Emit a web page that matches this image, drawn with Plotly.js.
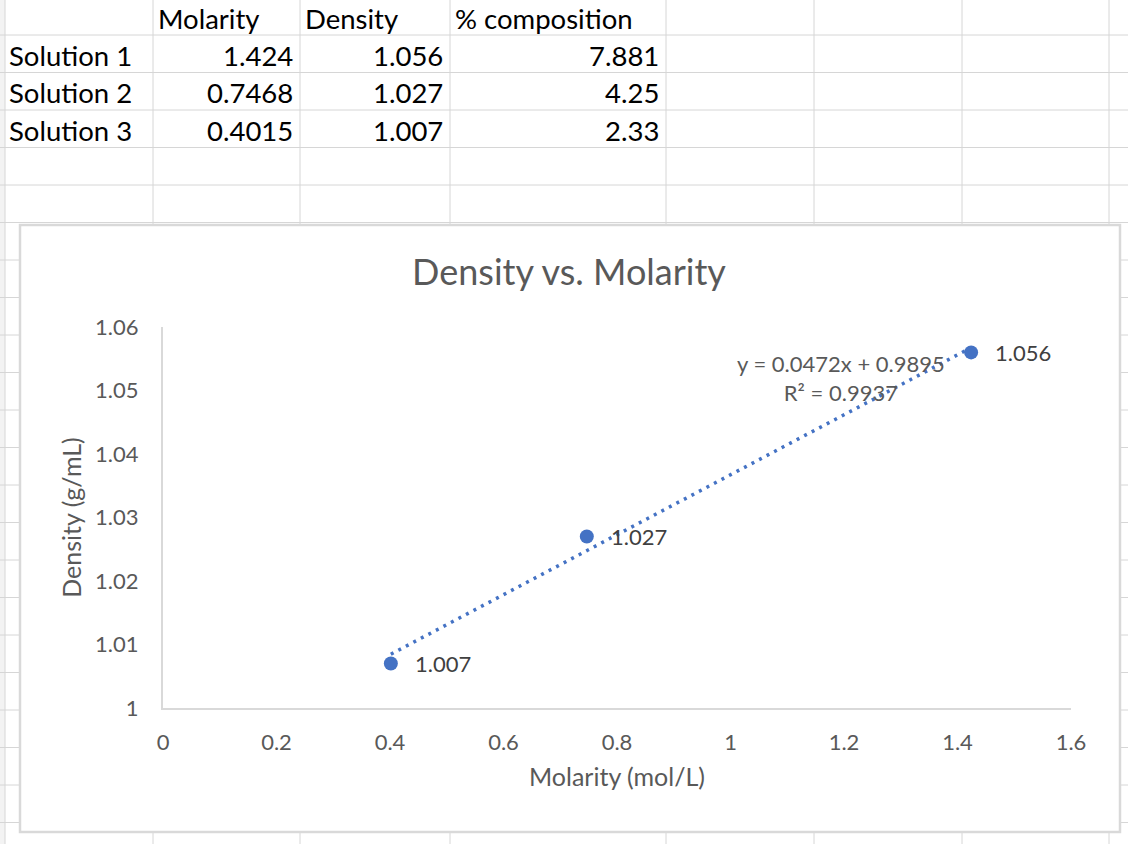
<!DOCTYPE html>
<html>
<head>
<meta charset="utf-8">
<script src="https://cdn.plot.ly/plotly-3.0.1.min.js"></script>
<style>
  html, body { margin: 0; padding: 0; background: #ffffff; }
  #chart { width: 1128px; height: 844px; }
</style>
</head>
<body>
<div id="chart"></div>
<script>
// ---- Data (read from the spreadsheet) ----
const tableHeaders = ["Molarity", "Density", "% composition"];
const rowLabels = ["Solution 1", "Solution 2", "Solution 3"];
const molarityText = ["1.424", "0.7468", "0.4015"];
const densityText = ["1.056", "1.027", "1.007"];
const compositionText = ["7.881", "4.25", "2.33"];

const molarity = [1.424, 0.7468, 0.4015];
const density = [1.056, 1.027, 1.007];

const xTickVals = [0, 0.2, 0.4, 0.6, 0.8, 1, 1.2, 1.4, 1.6];
const xTickText = ["0", "0.2", "0.4", "0.6", "0.8", "1", "1.2", "1.4", "1.6"];
const yTickVals = [1, 1.01, 1.02, 1.03, 1.04, 1.05, 1.06];
const yTickText = ["1", "1.01", "1.02", "1.03", "1.04", "1.05", "1.06"];

const chartTitle = "Density vs. Molarity";
const xTitle = "Molarity (mol/L)";
const yTitle = "Density (g/mL)";

// ---- Linear trendline (least squares, as Excel does) ----
const n = molarity.length;
const mx = molarity.reduce((a, b) => a + b, 0) / n;
const my = density.reduce((a, b) => a + b, 0) / n;
let sxy = 0, sxx = 0, syy = 0;
for (let i = 0; i < n; i++) {
  sxy += (molarity[i] - mx) * (density[i] - my);
  sxx += (molarity[i] - mx) ** 2;
  syy += (density[i] - my) ** 2;
}
const slope = sxy / sxx;
const intercept = my - slope * mx;
let ssres = 0;
for (let i = 0; i < n; i++) ssres += (density[i] - (intercept + slope * molarity[i])) ** 2;
const r2 = 1 - ssres / syy;
const xMin = Math.min(...molarity), xMax = Math.max(...molarity);
const trendX = [xMin, xMax];
const trendY = trendX.map(x => intercept + slope * x);

// ---- Layout helpers (pixel -> paper) ----
const W = 1128, H = 844;
const M = { l: 163, r: 57, t: 327, b: 136 };
const pw = W - M.l - M.r, ph = H - M.t - M.b;
const px = p => (p - M.l) / pw;
const py = p => (H - M.b - p) / ph;

const FONT = "Lato, 'Open Sans', sans-serif";
const GRID = "#d6d6d6";

const shapes = [];
// left gray strip
shapes.push({ type: "rect", xref: "paper", yref: "paper", x0: px(0), x1: px(5), y0: py(H), y1: py(0),
  fillcolor: "#f3f3f3", line: { width: 0 }, layer: "below" });
// spreadsheet row lines
for (let k = 0; k < 23; k++) {
  const yy = 35 + 37.5 * k;
  if (yy > H) break;
  shapes.push({ type: "line", xref: "paper", yref: "paper", x0: px(0), x1: px(W), y0: py(yy), y1: py(yy),
    line: { color: GRID, width: 1 }, layer: "below" });
}
// spreadsheet column lines
[5, 153, 300, 450, 666, 814, 962, 1109].forEach(xx => {
  shapes.push({ type: "line", xref: "paper", yref: "paper", x0: px(xx), x1: px(xx), y0: py(0), y1: py(H),
    line: { color: GRID, width: 1 }, layer: "below" });
});
// chart area
shapes.push({ type: "rect", xref: "paper", yref: "paper", x0: px(20), x1: px(1120), y0: py(832), y1: py(225),
  fillcolor: "#ffffff", line: { color: "#d9d9d9", width: 2.5 }, layer: "below" });

const annotations = [];
const cellFont = { family: FONT, size: 27.5, color: "#000000" };
// header row
const colLeft = [153, 300, 450];
const colRight = [300, 450, 666];
tableHeaders.forEach((h, j) => {
  annotations.push({ xref: "paper", yref: "paper", x: px(colLeft[j] + 3), y: py(18), text: h,
    showarrow: false, xanchor: "left", yanchor: "middle", font: cellFont });
});
const cols = [molarityText, densityText, compositionText];
rowLabels.forEach((lab, i) => {
  const yc = py(55 + 37.5 * i);
  annotations.push({ xref: "paper", yref: "paper", x: px(7), y: yc, text: lab,
    showarrow: false, xanchor: "left", yanchor: "middle", font: cellFont });
  cols.forEach((c, j) => {
    annotations.push({ xref: "paper", yref: "paper", x: px(colRight[j] - 5), y: yc, text: c[i],
      showarrow: false, xanchor: "right", yanchor: "middle", font: cellFont });
  });
});
// data labels
density.forEach((d, i) => {
  annotations.push({ xref: "x", yref: "y", x: molarity[i], y: d, text: densityText[i],
    showarrow: false, xanchor: "left", yanchor: "middle", xshift: 22,
    font: { family: FONT, size: 22, color: "#404040" } });
});
// trendline label
annotations.push({ xref: "paper", yref: "paper", x: px(841), y: py(378),
  text: "y = " + slope.toFixed(4) + "x + " + intercept.toFixed(4) + "<br>R² = " + r2.toFixed(4),
  showarrow: false, xanchor: "center", yanchor: "middle", align: "center",
  font: { family: FONT, size: 22, color: "#595959" } });

const traces = [
  { type: "scatter", mode: "lines", x: trendX, y: trendY, hoverinfo: "skip",
    line: { color: "#4472C4", width: 3.5, dash: "3px,5.5px" }, showlegend: false },
  { type: "scatter", mode: "markers", x: molarity, y: density,
    marker: { color: "#4472C4", size: 14 }, showlegend: false, cliponaxis: false }
];

const layout = {
  width: W, height: H, autosize: false,
  margin: M,
  paper_bgcolor: "#ffffff", plot_bgcolor: "rgba(0,0,0,0)",
  font: { family: FONT, color: "#595959" },
  showlegend: false,
  title: { text: chartTitle, x: px(569), xref: "paper", xanchor: "center",
    y: 1 - 272 / H, yref: "container", yanchor: "middle",
    font: { family: FONT, size: 36, color: "#595959" } },
  xaxis: {
    range: [0, 1.6], tickvals: xTickVals, ticktext: xTickText,
    showgrid: false, zeroline: false, showline: true, linecolor: "#d9d9d9", linewidth: 2,
    ticks: "outside", ticklen: 14, tickcolor: "rgba(0,0,0,0)",
    tickfont: { family: FONT, size: 22, color: "#595959" },
    title: { text: xTitle, standoff: 14, font: { family: FONT, size: 25, color: "#595959" } },
    fixedrange: true
  },
  yaxis: {
    range: [1, 1.06], tickvals: yTickVals, ticktext: yTickText,
    showgrid: false, zeroline: false, showline: true, linecolor: "#d9d9d9", linewidth: 2,
    ticks: "outside", ticklen: 18, tickcolor: "rgba(0,0,0,0)",
    tickfont: { family: FONT, size: 22, color: "#595959" },
    title: { text: yTitle, standoff: 6, font: { family: FONT, size: 25, color: "#595959" } },
    fixedrange: true
  },
  shapes: shapes,
  annotations: annotations
};

Plotly.newPlot("chart", traces, layout, { displayModeBar: false, staticPlot: true });
</script>
</body>
</html>
